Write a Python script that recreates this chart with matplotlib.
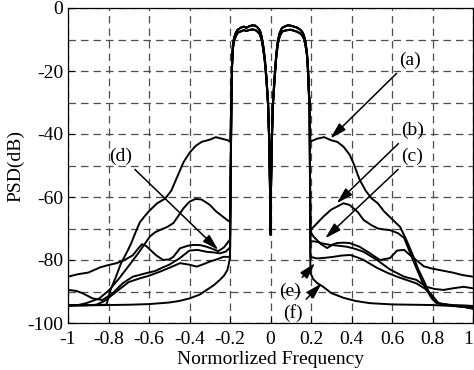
import matplotlib
matplotlib.use("Agg")
import matplotlib.pyplot as plt
import numpy as np

plt.rcParams['font.family'] = ['Liberation Serif', 'DejaVu Serif']

# ---------------- data ----------------
# shared in-band part (two lobes with notch at 0)
lobe_f = [-0.193, -0.19, -0.186, -0.18, -0.172, -0.164, -0.155, -0.145, -0.132, -0.12,
          -0.105, -0.09, -0.075, -0.062, -0.052, -0.044, -0.036, -0.028, -0.02, -0.012,
          -0.006, -0.002, 0.0, 0.002, 0.006, 0.012, 0.02, 0.028, 0.036, 0.045, 0.057,
          0.07, 0.085, 0.1, 0.115, 0.13, 0.145, 0.155, 0.164, 0.172, 0.18, 0.186, 0.19, 0.193]
lobe_db_1 = [-30, -18, -12, -9.5, -8, -7, -6.6, -6.2, -5.9, -6.3,
             -5.8, -5.5, -5.6, -6.3, -7.2, -9, -12, -16, -22, -30,
             -42, -58, -72, -58, -42, -30, -22, -15, -10.5, -8, -6.3,
             -5.9, -5.5, -5.6, -5.9, -6.2, -6.8, -7.4, -8.5, -10.5, -14, -20, -27, -30]
lobe_db_2 = [-30, -19, -13, -10.5, -9, -8, -7.6, -7.4, -7.0, -7.3,
             -7.0, -6.8, -7.0, -7.6, -8.4, -10, -13, -17, -23, -31,
             -44, -60, -70, -60, -44, -31, -23, -16, -11.5, -9, -7.5,
             -7.2, -7.0, -6.9, -7.2, -7.5, -8.0, -8.6, -9.6, -11.5, -15, -21, -28, -30]

# out-of-band parts, left side (f from -1 to -0.2) and right side (0.2 to 1)
a_left_f  = [-1.0, -0.9, -0.81, -0.79, -0.763, -0.738, -0.713, -0.69, -0.665, -0.645, -0.62, -0.6,
             -0.56, -0.52, -0.49, -0.46, -0.43, -0.4, -0.37, -0.34, -0.3, -0.27, -0.24, -0.21, -0.2]
a_left_db = [-94.3, -94.3, -94.2, -89.5, -85.3, -81.0, -78.0, -75.0, -71.0, -68.0, -66.0, -64.5,
             -62.0, -60.5, -58.0, -53.5, -49.0, -46.0, -43.8, -42.5, -41.8, -41.0, -41.5, -42.0, -42.5]
a_right_f  = [0.197, 0.23, 0.265, 0.3, 0.33, 0.36, 0.39, 0.41, 0.44, 0.47, 0.5, 0.53, 0.56, 0.6,
              0.64, 0.67, 0.7, 0.73, 0.76, 0.79, 0.82, 0.85, 0.9, 0.95, 1.0]
a_right_db = [-42.4, -41.5, -41.0, -42.0, -42.5, -44.0, -46.5, -49.3, -54.5, -58.0, -60.5, -62.0,
              -64.5, -67.0, -69.5, -73.5, -78.0, -83.0, -87.0, -91.3, -93.5, -94.0, -94.3, -94.4, -94.6]

b_left_f  = [-1.0, -0.95, -0.91, -0.845, -0.796, -0.747, -0.697, -0.648, -0.62, -0.595, -0.57,
             -0.546, -0.51, -0.48, -0.455, -0.43, -0.4, -0.37, -0.34, -0.3, -0.27, -0.24, -0.21, -0.2]
b_left_db = [-94.5, -94.3, -93.7, -92.2, -89.5, -85.8, -81.6, -77.4, -74.8, -72.5, -71.2,
             -70.5, -69.5, -68.3, -66.0, -63.6, -61.5, -60.6, -60.8, -62.5, -64.5, -66.0, -67.5, -67.8]
b_right_f  = [0.197, 0.22, 0.26, 0.3, 0.33, 0.36, 0.39, 0.43, 0.46, 0.5, 0.53, 0.56, 0.59, 0.63,
              0.66, 0.69, 0.71, 0.73, 0.75, 0.77, 0.8, 0.82, 0.9, 0.95, 1.0]
b_right_db = [-70.5, -69.0, -66.3, -64.0, -63.0, -62.0, -62.5, -64.7, -67.3, -69.0, -70.0, -70.3,
              -70.5, -71.5, -73.0, -77.8, -81.0, -84.0, -87.0, -89.5, -92.5, -93.7, -94.5, -94.8, -95.3]

c_left_f  = [-1.0, -0.95, -0.9, -0.84, -0.8, -0.76, -0.72, -0.68, -0.655, -0.635, -0.615, -0.59,
             -0.565, -0.53, -0.5, -0.48, -0.447, -0.41, -0.38, -0.345, -0.315, -0.285, -0.258, -0.23, -0.2]
c_left_db = [-85.3, -84.5, -84.0, -82.3, -81.6, -81.0, -80.0, -78.5, -76.5, -75.0, -75.5, -77.0,
             -78.5, -80.0, -79.8, -79.0, -76.3, -75.5, -75.2, -75.3, -75.8, -76.5, -77.2, -76.0, -73.5]
c_right_f  = [0.197, 0.213, 0.25, 0.28, 0.31, 0.33, 0.36, 0.39, 0.44, 0.49, 0.54, 0.59, 0.625,
              0.66, 0.69, 0.71, 0.757, 0.79, 0.82, 0.86, 0.9, 0.95, 1.0]
c_right_db = [-71.0, -72.6, -75.0, -76.2, -75.0, -74.6, -74.5, -74.6, -75.8, -77.8, -80.0, -79.4,
              -77.0, -76.8, -78.5, -79.5, -82.0, -82.6, -83.0, -83.5, -84.0, -84.8, -85.3]

d_left_f  = [-1.0, -0.96, -0.93, -0.878, -0.83, -0.78, -0.73, -0.68, -0.615, -0.57, -0.53, -0.5,
             -0.45, -0.4, -0.36, -0.315, -0.28, -0.25, -0.22, -0.2]
d_left_db = [-89.5, -89.8, -90.5, -92.2, -92.7, -90.6, -87.4, -85.3, -84.2, -83.5, -82.3, -81.5,
             -79.5, -77.0, -76.8, -77.4, -77.6, -77.9, -77.3, -76.0]
d_right_f  = [0.197, 0.23, 0.26, 0.295, 0.34, 0.378, 0.42, 0.46, 0.526, 0.59, 0.66, 0.72, 0.77,
              0.81, 0.855, 0.9, 0.954, 1.0]
d_right_db = [-74.0, -74.2, -74.8, -75.2, -75.5, -75.8, -76.5, -77.4, -80.0, -83.0, -85.3, -86.3,
              -88.5, -89.2, -89.5, -89.0, -88.5, -89.0]

e_left_f  = [-1.0, -0.92, -0.86, -0.82, -0.79, -0.76, -0.73, -0.7, -0.644, -0.6, -0.546, -0.5,
             -0.447, -0.4, -0.364, -0.33, -0.3, -0.265, -0.233, -0.2]
e_left_db = [-94.4, -94.4, -94.2, -93.0, -91.5, -90.0, -88.5, -87.0, -85.8, -85.0, -83.7, -82.5,
             -81.0, -81.5, -82.1, -81.3, -80.5, -79.8, -79.0, -79.0]
e_right_f  = [0.197, 0.23, 0.27, 0.31, 0.35, 0.394, 0.43, 0.46, 0.526, 0.575, 0.625, 0.67, 0.72,
              0.76, 0.79, 0.83, 0.9, 0.95, 1.0]
e_right_db = [-79.0, -79.5, -79.3, -79.0, -78.6, -78.4, -79.2, -80.0, -82.5, -84.0, -85.3, -86.3,
              -87.4, -89.0, -90.6, -93.7, -94.5, -94.8, -95.5]

f_left_f  = [-1.0, -0.9, -0.8, -0.7, -0.6, -0.5, -0.45, -0.4, -0.35, -0.315, -0.28, -0.25, -0.23,
             -0.213, -0.205, -0.2]
f_left_db = [-94.5, -94.4, -94.3, -94.2, -94.0, -93.5, -93.0, -92.2, -91.0, -89.5, -88.0, -86.3,
             -85.0, -83.2, -81.0, -79.0]
f_right_f  = [0.197, 0.21, 0.23, 0.26, 0.3, 0.36, 0.42, 0.49, 0.6, 0.7, 0.8, 0.9, 0.95, 1.0]
f_right_db = [-84.0, -86.0, -87.3, -88.5, -90.5, -92.0, -93.0, -93.7, -94.1, -94.2, -94.3, -94.6,
              -94.9, -95.2]

labels = ['(a)', '(b)', '(c)', '(d)', '(e)', '(f)']
# label centres and arrow targets (f, dB)
label_pos = [(0.69, -16.5), (0.70, -38.8), (0.70, -47.0), (-0.738, -47.0), (0.096, -89.8), (0.11, -96.8)]
arrow_tip = [(0.296, -41.4), (0.327, -62.0), (0.27, -73.1), (-0.258, -76.8), (0.22, -81.0), (0.253, -87.4)]

xticks = [-1, -0.8, -0.6, -0.4, -0.2, 0, 0.2, 0.4, 0.6, 0.8, 1]
xticklabels = ['-1', '-0.8', '-0.6', '-0.4', '-0.2', '0', '0.2', '0.4', '0.6', '0.8', '1']
yticks = [-100, -80, -60, -40, -20, 0]
yticklabels = ['-100', '-80', '-60', '-40', '-20', '0']

# ---------------- plot ----------------
fig = plt.figure(figsize=(4.74, 3.70), dpi=100)
ax = fig.add_axes([68 / 474, 1 - 323 / 370, 405 / 474, 315 / 370])

curves = [
    (a_left_f, a_left_db, lobe_db_1, a_right_f, a_right_db),
    (b_left_f, b_left_db, lobe_db_2, b_right_f, b_right_db),
    (c_left_f, c_left_db, lobe_db_1, c_right_f, c_right_db),
    (d_left_f, d_left_db, lobe_db_2, d_right_f, d_right_db),
    (e_left_f, e_left_db, lobe_db_1, e_right_f, e_right_db),
    (f_left_f, f_left_db, lobe_db_2, f_right_f, f_right_db),
]
for lf, ldb, lobe, rf, rdb in curves:
    xs = list(lf) + list(lobe_f) + list(rf)
    ys = list(ldb) + list(lobe) + list(rdb)
    ax.plot(xs, ys, color='black', lw=1.4, solid_joinstyle='round', zorder=3)

ax.set_xlim(-1, 1)
ax.set_ylim(-100, 0)
ax.set_xticks(xticks)
ax.set_xticklabels(xticklabels)
ax.set_yticks(yticks)
ax.set_yticklabels(yticklabels)
ax.set_yticks(np.arange(-90, 0, 20), minor=True)
ax.tick_params(which='both', direction='in', length=4, width=0.8, labelsize=14, colors='black')
ax.tick_params(which='minor', length=0)
ax.tick_params(axis='x', pad=6)
# keep the last x tick label inside the canvas
ax.get_xticklabels()[-1].set_horizontalalignment('right')
ax.grid(True, which='both', color='0.3', linestyle=(0, (6, 4)), linewidth=0.9, zorder=1)
for s in ax.spines.values():
    s.set_linewidth(0.9)

ax.set_xlabel('Normorlized Frequency', fontsize=14, labelpad=2)
ax.set_ylabel('PSD(dB)', fontsize=14, labelpad=2)

for lab, pos, tip in zip(labels, label_pos, arrow_tip):
    ax.annotate(lab, xy=tip, xytext=pos, ha='center', va='center', fontsize=14,
                arrowprops=dict(arrowstyle='-|>,head_length=0.7,head_width=0.2',
                                color='black', lw=1.1, shrinkA=2, shrinkB=0),
                zorder=5)

fig.savefig('out.png', dpi=100)
